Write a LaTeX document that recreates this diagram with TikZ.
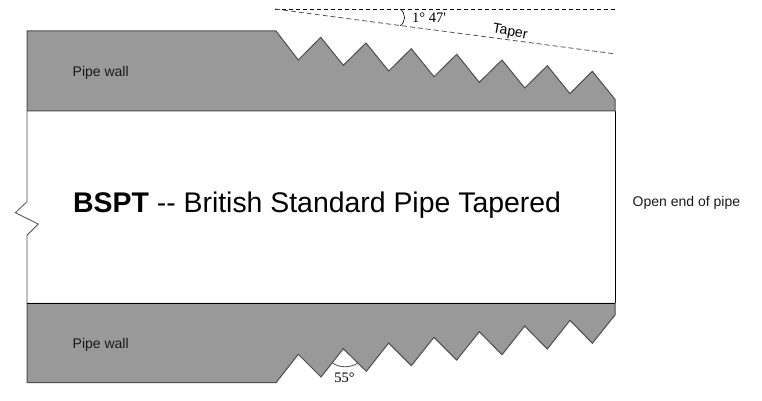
\documentclass[tikz,border=0pt]{standalone}
\usepackage{fontspec}
\setmainfont{Liberation Sans}
\newfontfamily\serifface{Liberation Serif}
\usetikzlibrary{calc}
\tikzset{
  x=1pt,y=-1pt,
  wall/.style={fill=wallgray,draw=edgegray,line width=1pt,line join=miter},
  rim/.style={draw=black,line width=1pt},
  breakline/.style={draw=edgegray,line width=0.8pt},
  guide/.style={draw=black,line width=0.7pt,dash pattern=on 4pt off 3pt},
  tapered/.style={draw=dashgray,line width=0.8pt,dash pattern=on 5pt off 3pt},
  anglearc/.style={draw=black,line width=0.6pt},
  label/.style={font=\fontsize{14}{16}\selectfont,inner sep=0pt,text=black!90},
  serifl/.style={font=\serifface\fontsize{14.5}{16}\selectfont,inner sep=0pt},
}
\definecolor{wallgray}{HTML}{999999}
\definecolor{edgegray}{HTML}{4D4D4D}
\definecolor{dashgray}{HTML}{555555}
\begin{document}
\begin{tikzpicture}
\useasboundingbox (0,0) rectangle (762,401);
% pipe bore edges
\draw[breakline] (27,111) -- (27,201.7) -- (15.3,212.7) -- (38.3,224) -- (27,235.3) -- (27,303);
\draw[rim] (615,111) -- (615,303);
% upper wall
\draw[wall] (27,31) -- (276,31) -- (298.3,60) -- (320.7,37.3) -- (343.3,65.3) -- (366,43) -- (388.7,71)
  -- (411.3,48.7) -- (434,76.7) -- (456.7,54.3) -- (479.3,82.3) -- (502,60) -- (524.7,88)
  -- (547.3,65.7) -- (570,93.7) -- (592.3,71.3) -- (615,99.3) -- (615,111) -- (27,111) -- cycle;
% lower wall
\draw[wall] (27,303.3) -- (615,303.3) -- (615,315) -- (592.3,343.3) -- (570,320.3) -- (547.3,349)
  -- (524.7,326) -- (502,354.7) -- (479.3,331.7) -- (456.7,360) -- (434,337.3) -- (411.3,365.7)
  -- (388.7,343) -- (366.3,371.3) -- (343.3,348.7) -- (321,377) -- (298.3,354.3) -- (276,382.7)
  -- (27,382.7) -- cycle;
\draw[rim] (27,303.3) -- (615,303.3);
% taper guides
\coordinate (apex) at (275,9);
\coordinate (levelend) at (616,9);
\coordinate (taperend) at (616,54);
\draw[guide] (apex) -- (levelend);
\draw[tapered] (apex) -- (taperend);
\coordinate (arcA) at (400,9);
\coordinate (arcB) at (400,26);
\draw[anglearc] (arcA) .. controls (406,13) and (406,22) .. (arcB);
\coordinate (arcC) at (332.7,363);
\coordinate (arcD) at (357.7,363);
\draw[anglearc,draw=edgegray,line width=0.8pt] (arcC) .. controls (339,368) and (351,368) .. (arcD);
% labels
\node[serifl,anchor=west] (angleA) at (412,18) {1° 47'};
\node[serifl,anchor=center] (angleB) at (344.5,378) {55°};
\node[font=\fontsize{14}{16}\selectfont,inner sep=0pt,rotate=-10] (taper) at (510,32.5) {Taper};
\node[label,anchor=west] (wallA) at (72.5,72.5) {Pipe wall};
\node[label,anchor=west] (wallB) at (72.5,344.5) {Pipe wall};
\node[font=\fontsize{28.4}{30}\selectfont,inner sep=0pt,anchor=west] (title) at (73,205) {\textbf{BSPT} -{}- British Standard Pipe Tapered};
\node[label,anchor=west] (openend) at (632.5,202.5) {Open end of pipe};
\end{tikzpicture}
\end{document}
